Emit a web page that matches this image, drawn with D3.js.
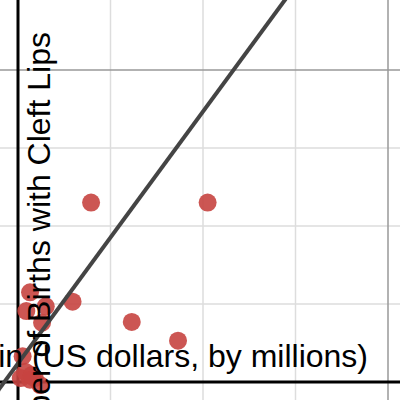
<!DOCTYPE html>
<html><head><meta charset="utf-8">
<script src="https://cdn.jsdelivr.net/npm/d3@7"></script>
<style>body{margin:0;background:#fff}svg{display:block}</style>
</head><body><svg id="vis" width="400" height="400"></svg>
<script>
var pointsX = [0.79, 2.05, 0.13, 0.09, 0.30, 0.59, 0.26, 1.23, 1.73, 0.05, 0.08, 0.13, 0.18, 0.24, 0.03, 0.15];
var pointsY = [2.30, 2.30, 1.15, 0.91, 0.97, 1.03, 0.76, 0.77, 0.53, 0.33, 0.13, 0.03, 0.05, -0.04, 0.05, 0.09];
var lineSlope = 1.614, lineIntercept = 0.24;
var xLabel = 'Spending in (US dollars, by millions)';
var yLabel = 'Number of Births with Cleft Lips';

var svg = d3.select('#vis');
var x = d3.scaleLinear().domain([0, 4]).range([18, 388]);
var y = d3.scaleLinear().domain([0, 4]).range([382, 70]);

var g = svg.append('g');
d3.range(-1, 5).forEach(function(v) {
  var major = v % 4 === 0;
  if (v !== 0) {
    g.append('line').attr('x1', x(v)).attr('x2', x(v)).attr('y1', 0).attr('y2', 400)
      .attr('stroke', major ? '#999' : '#ddd').attr('stroke-width', 1.5);
    g.append('line').attr('y1', y(v)).attr('y2', y(v)).attr('x1', 0).attr('x2', 400)
      .attr('stroke', major ? '#999' : '#ddd').attr('stroke-width', 1.5);
  }
});
g.append('line').attr('x1', x(0)).attr('x2', x(0)).attr('y1', 0).attr('y2', 400)
  .attr('stroke', '#000').attr('stroke-width', 3);
g.append('line').attr('y1', y(0)).attr('y2', y(0)).attr('x1', 0).attr('x2', 400)
  .attr('stroke', '#000').attr('stroke-width', 3);

svg.selectAll('.pt').data(d3.range(pointsX.length)).enter().append('circle')
  .attr('cx', function(i) { return x(pointsX[i]); })
  .attr('cy', function(i) { return y(pointsY[i]); })
  .attr('r', 9).attr('fill', '#c74440').attr('fill-opacity', 0.9);

var x0 = -0.5, x1 = 3;
svg.append('line').attr('x1', x(x0)).attr('y1', y(lineSlope * x0 + lineIntercept))
  .attr('x2', x(x1)).attr('y2', y(lineSlope * x1 + lineIntercept))
  .attr('stroke', '#444').attr('stroke-width', 4);

svg.append('text').attr('x', 368).attr('y', 367).attr('text-anchor', 'end')
  .attr('font-family', 'Liberation Sans, Arial, sans-serif').attr('font-size', 32).text(xLabel);
svg.append('text').attr('transform', 'translate(50,32) rotate(-90)').attr('text-anchor', 'end')
  .attr('font-family', 'Liberation Sans, Arial, sans-serif').attr('font-size', 32).text(yLabel);
</script></body></html>
